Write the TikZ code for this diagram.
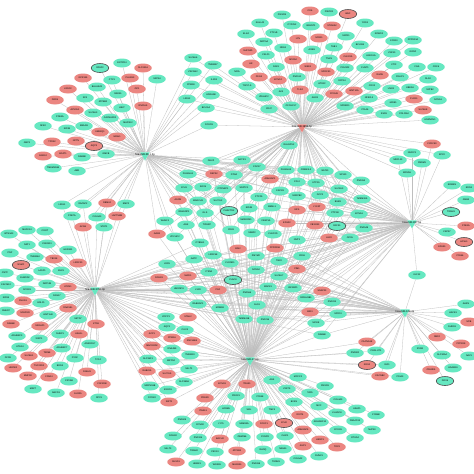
\documentclass[tikz,border=0pt]{standalone}
\usepackage{fontspec}
\setmainfont{Liberation Sans}
\usetikzlibrary{shapes.geometric,backgrounds}
\definecolor{tq}{RGB}{102,232,193}
\definecolor{sm}{RGB}{235,134,129}
\definecolor{eg}{RGB}{190,190,190}
\tikzset{
 gene/.style={ellipse,minimum width=17.5pt,minimum height=9pt,inner sep=0pt,font=\fontsize{2.3}{2.7}\selectfont},
 gt/.style={gene,fill=tq},
 gs/.style={gene,fill=sm},
 dk/.style={draw=black!70,line width=0.6pt},
 hub/.style={regular polygon,regular polygon sides=3,shape border rotate=180,minimum size=11pt,inner sep=0pt,fill=tq},
 hlab/.style={font=\fontsize{2.6}{3}\selectfont},
 edge/.style={draw=eg,line width=0.28pt},
}
\begin{document}
\begin{tikzpicture}[x=1pt,y=-1pt]
\useasboundingbox (0,0) rectangle (474,474);
% hubs
\node[hub] (h1) at (145,155) {};
\node[hub,fill=sm] (h2) at (302,127) {};
\node[hub] (h3) at (412,223) {};
\node[hub] (h4) at (95,290) {};
\node[hub] (h5) at (405,312) {};
\node[hub] (h6) at (250,360) {};
\node[hlab] (l1) at (h1) {hsa-miR-26-1-3p};
\node[hlab] (l2) at (h2) {hsa-miR-199b-5p};
\node[hlab] (l3) at (h3) {hsa-miR-497-5p};
\node[hlab] (l4) at (h4) {hsa-miR-376c-3p};
\node[hlab] (l5) at (h5) {hsa-miR-128-3p};
\node[hlab] (l6) at (h6) {hsa-miR-17-5p};
% cluster A
\node[gt,dk] (a1) at (100,68) {RPAP2};
\node[gt] (a2) at (122,63) {ENTPD4};
\node[gs] (a3) at (143,68) {SLC24A1};
\node[gs] (a4) at (83,78) {GPR135};
\node[gt] (a5) at (112,80) {CTC1};
\node[gs] (a6) at (130,78) {PLA2G3};
\node[gt] (a7) at (157,79) {SRP54};
\node[gs] (a8) at (68,89) {LRRC2};
\node[gt] (a9) at (97,87) {BHLHE41};
\node[gt] (a10) at (118,94) {RAD51};
\node[gs] (a11) at (137,89) {ZIC1};
\node[gs] (a12) at (55,100) {DRD5};
\node[gt] (a13) at (85,98) {SP4};
\node[gt] (a14) at (103,102) {ATP8B2};
\node[gt] (a15) at (122,108) {HELT};
\node[gs] (a16) at (143,106) {RNF165};
\node[gs] (a17) at (75,110) {ACVRL1};
\node[gt] (a18) at (93,113) {SLC5A3};
\node[gt] (a19) at (110,118) {CACNA2D2};
\node[gt] (a20) at (60,117) {PDE4A};
\node[gt] (a21) at (128,123) {MAP3K2};
\node[gt] (a22) at (43,126) {NFE2};
\node[gt] (a23) at (67,129) {KIF3B};
\node[gt] (a24) at (84,126) {EBAG9};
\node[gs] (a25) at (100,132) {UBE2Q1};
\node[gs] (a26) at (117,137) {VASH1};
\node[gt] (a27) at (27,143) {GBP1};
\node[gs] (a28) at (52,142) {TPD52};
\node[gs] (a29) at (76,141) {NPTN};
\node[gs,dk] (a30) at (94,146) {AQP3};
\node[gs] (a31) at (43,156) {GNG12};
\node[gs] (a32) at (63,154) {BCAT1};
\node[gt] (a33) at (82,157) {RAB3B};
\node[gt] (a34) at (106,154) {GMFB};
\node[gt] (a35) at (53,168) {TMEM106B};
\node[gt] (a36) at (77,171) {ABI1};
\node[gt] (a37) at (193,58) {SLC6A6};
\node[gt] (a38) at (213,65) {TMEM97};
\node[gt] (a39) at (193,72) {ZSCAN2};
\node[gt] (a40) at (214,80) {IL1R1};
\node[gt] (a41) at (191,85) {PPM1E};
\node[gt] (a42) at (187,99) {LRIG2};
\node[gt] (a43) at (211,95) {ADRA2B};
\node[gt] (a44) at (206,108) {BCL11A};
\node[gt] (a45) at (209,125) {FOXO3};
% cluster B
\node[gs] (b1) at (310,11) {CD6};
\node[gt] (b2) at (329,12) {PIEZO1};
\node[gs,dk] (b3) at (348,14) {WAC};
\node[gt] (b4) at (282,15) {PIK3CB};
\node[gt] (b5) at (260,23) {KLHL42};
\node[gt] (b6) at (292,25) {CYP4V2};
\node[gt] (b7) at (311,26) {B3GNT1};
\node[gs] (b8) at (332,26) {ST8SIA2};
\node[gt] (b9) at (365,23) {YOD1};
\node[gt] (b10) at (246,34) {ELK4};
\node[gt] (b11) at (274,33) {PTCH1};
\node[gs] (b12) at (319,38) {SOX11};
\node[gt] (b13) at (346,36) {S1PR1};
\node[gt] (b14) at (379,34) {ROBO2};
\node[gt] (b15) at (264,42) {INPP5A};
\node[gs] (b16) at (298,39) {LYN};
\node[gt] (b17) at (360,45) {BCL11B};
\node[gt] (b18) at (394,41) {COX10};
\node[gt] (b19) at (413,40) {PPP1R3A};
\node[gs] (b20) at (248,51) {SUCNR1};
\node[gt] (b21) at (283,48) {NRG1};
\node[gt] (b22) at (312,50) {AREG};
\node[gt] (b23) at (334,47) {TAB1};
\node[gt] (b24) at (413,52) {GDNF};
\node[gt] (b25) at (266,55) {CELF1};
\node[gs] (b26) at (293,60) {NCOA2};
\node[gt] (b27) at (329,59) {TNKS};
\node[gs] (b28) at (348,57) {CLEC2A};
\node[gt] (b29) at (371,56) {ANKS1A};
\node[gt] (b30) at (392,53) {ZNF10};
\node[gs] (b31) at (251,64) {AR};
\node[gt] (b32) at (276,67) {PAK3};
\node[gs] (b33) at (308,67) {WEE1};
\node[gs] (b34) at (326,72) {SPOCK1};
\node[gt] (b35) at (345,68) {POU3F2};
\node[gt] (b36) at (365,68) {CHST1};
\node[gt] (b37) at (394,65) {CTIF};
\node[gt] (b38) at (417,67) {FGA};
\node[gt] (b39) at (436,67) {CDC6};
\node[gt] (b40) at (237,72) {NFIA};
\node[gs] (b41) at (259,77) {PEG3};
\node[gs] (b42) at (278,80) {KCNC4};
\node[gt] (b43) at (297,77) {ZNF512};
\node[gs] (b44) at (380,75) {RHOU};
\node[gt] (b45) at (400,77) {PGAP1};
\node[gt] (b46) at (428,79) {DLG2};
\node[gt] (b47) at (247,86) {TSPYL5};
\node[gt] (b48) at (281,92) {AK3};
\node[gs] (b49) at (300,90) {TLR4};
\node[gt] (b50) at (322,84) {HTR1F};
\node[gt] (b51) at (342,81) {RPP14};
\node[gt] (b52) at (372,86) {CDX2};
\node[gt] (b53) at (391,89) {USO1};
\node[gt] (b54) at (410,88) {UBE2H};
\node[gt] (b55) at (430,90) {SNTB2};
\node[gt] (b56) at (264,97) {ZDHHC2};
\node[gs] (b57) at (334,94) {PCDH9};
\node[gs] (b58) at (354,91) {WNT10A};
\node[gt] (b59) at (315,98) {AGO1};
\node[gt] (b60) at (369,98) {NFE2L3};
\node[gs] (b61) at (414,99) {PLCG1};
\node[gt] (b62) at (438,100) {NOVA1};
\node[gt] (b63) at (269,109) {CD47};
\node[gt] (b64) at (291,106) {ZCCHC17};
\node[gt] (b65) at (345,106) {SPRED1};
\node[gt] (b66) at (393,103) {JADE1};
\node[gs] (b67) at (423,110) {SLC6A8};
\node[gt] (b68) at (365,110) {ITGA6};
\node[gt] (b69) at (384,114) {SSR1};
\node[gt] (b70) at (404,114) {POLR3H};
\node[gt] (b71) at (430,120) {HNRNPH1};
\node[gt] (b72) at (289,145) {RALGPS2};
% cluster C
\node[gs] (c1) at (432,144) {CCDC80};
\node[gt] (c2) at (412,153) {NUFIP1};
\node[gt] (c3) at (442,155) {EPC2};
\node[gt] (c4) at (398,160) {MRPL13};
\node[gt] (c5) at (422,163) {PBRM1};
\node[gt] (c6) at (407,173) {MFSD6};
\node[gt] (c7) at (452,185) {EOMES};
\node[gt] (c8) at (469,188) {EDN1};
\node[gt] (c9) at (466,200) {GNB4};
\node[gt,dk] (c10) at (451,212) {TRAM1};
\node[gs] (c11) at (466,226) {PDE1A};
\node[gt] (c12) at (447,232) {CEP97};
\node[gs,dk] (c13) at (464,242) {ACSL1};
\node[gs] (c14) at (442,247) {EPAS1};
\node[gs] (c15) at (460,256) {ITGB6};
\node[gt] (c16) at (417,275) {KLF12};
% cluster E
\node[gt] (e1) at (466,304) {AARS};
\node[gt] (e2) at (453,313) {HACE1};
\node[gs] (e3) at (469,322) {MYB};
\node[gt] (e4) at (452,327) {DHRS3};
\node[gs] (e5) at (437,337) {RBP4};
\node[gs] (e6) at (461,344) {PPP1R9};
\node[gt] (e7) at (469,356) {NAV1};
\node[gt] (e8) at (420,349) {STAM};
\node[gt] (e9) at (442,355) {SLC30A4};
\node[gt] (e10) at (453,368) {ADAM19};
\node[gs] (e11) at (431,370) {ZFAND5};
\node[gt,dk] (e12) at (445,381) {DDX6};
\node[gs] (e13) at (367,342) {CACNA1E};
\node[gt] (e14) at (355,353) {ZNF800};
\node[gt] (e15) at (376,351) {POGLUT1};
\node[gs,dk] (e16) at (367,365) {RGS2};
\node[gt] (e17) at (387,365) {IGF1};
\node[gs] (e18) at (380,376) {CACNB2};
\node[gt] (e19) at (400,377) {PDIA3};
% cluster D
\node[gt] (d1) at (62,205) {LRIG1};
\node[gt] (d2) at (83,204) {DAZAP2};
\node[gs] (d3) at (107,203) {RBM24};
\node[gt] (d4) at (126,204) {EMP2};
\node[gt] (d5) at (72,216) {PDE7A};
\node[gt] (d6) at (97,217) {COL9A3};
\node[gs] (d7) at (117,216) {LAPTM4B};
\node[gs] (d8) at (83,227) {ACAN};
\node[gt] (d9) at (104,227) {STAT1};
\node[gt] (d10) at (9,234) {BTN3A3};
\node[gt] (d11) at (27,230) {MAPK14};
\node[gt] (d12) at (45,231) {CROT};
\node[gt] (d13) at (27,245) {NAT1};
\node[gt] (d14) at (47,244) {CNKSR3};
\node[gt] (d15) at (68,250) {HEXIM1};
\node[gt] (d16) at (10,253) {PNP};
\node[gt] (d17) at (35,257) {TMEM64};
\node[gs] (d18) at (54,259) {TBX18};
\node[gs] (d19) at (78,263) {LRRC20};
\node[gs,dk] (d20) at (21,265) {NSMF};
\node[gt] (d21) at (5,273) {CNTF};
\node[gt] (d22) at (42,271) {LASP1};
\node[gt] (d23) at (61,271) {ZHX3};
\node[gt] (d24) at (25,278) {ELMOD2};
\node[gt] (d25) at (6,285) {CACNG2};
\node[gt] (d26) at (47,284) {INPP4B};
\node[gt] (d27) at (27,290) {SCRN1};
\node[gs] (d28) at (68,287) {ATXN1};
\node[gt] (d29) at (6,298) {KIF1B};
\node[gs] (d30) at (23,301) {PHKG1};
\node[gt] (d31) at (57,296) {RGS17};
\node[gt] (d32) at (41,303) {GRLF1};
\node[gt] (d33) at (6,311) {SMAD7};
\node[gs] (d34) at (25,313) {SCAPER};
\node[gt] (d35) at (48,315) {HIST1H4};
\node[gs] (d36) at (68,308) {RNASEL};
\node[gt] (d37) at (78,319) {SETD7};
\node[gs] (d38) at (11,324) {RAB6B};
\node[gs] (d39) at (40,326) {SRGAP1};
\node[gt] (d40) at (60,334) {NUBP1};
\node[gt] (d41) at (17,336) {ARHGEF3};
\node[gs] (d42) at (96,324) {KTN1};
\node[gs] (d43) at (79,334) {ASH1L};
\node[gt] (d44) at (39,339) {XIRP1};
\node[gt] (d45) at (20,347) {ATG14};
\node[gt] (d46) at (62,348) {ARHGEF7};
\node[gt] (d47) at (90,344) {ANKRD17};
\node[gs] (d48) at (29,356) {SLC8A1};
\node[gs] (d49) at (47,353) {TRIM8};
\node[gt] (d50) at (8,358) {DFFB};
\node[gt] (d51) at (75,358) {DYSF};
\node[gt] (d52) at (98,360) {TCF4};
\node[gs] (d53) at (13,368) {HECW2};
\node[gs] (d54) at (39,366) {TSC22D2};
\node[gt] (d55) at (60,366) {BRD4};
\node[gs] (d56) at (87,372) {DNAH1};
\node[gs] (d57) at (28,376) {BMPR2};
\node[gs] (d58) at (49,377) {FFAR4};
\node[gt] (d59) at (69,381) {CRYAB};
\node[gs] (d60) at (102,384) {CSF2RB};
\node[gt] (d61) at (33,389) {MAP7};
\node[gt] (d62) at (56,393) {ABCD3};
\node[gs] (d63) at (78,394) {GLRX5};
\node[gt] (d64) at (99,398) {DPF3};
% middle M
\node[gt] (m1) at (211,161) {DGKZ};
\node[gt] (m2) at (188,174) {PLEKHA1};
\node[gs] (m3) at (214,174) {REPS2};
\node[gt] (m4) at (234,175) {DTNA};
\node[gt] (m5) at (184,188) {JPH1};
\node[gt] (m6) at (203,187) {SOX5};
\node[gt] (m7) at (223,189) {CTDNEP1};
\node[gs] (m8) at (178,200) {AGRN};
\node[gt] (m9) at (198,201) {MARCH3};
\node[gt] (m10) at (218,201) {SLC7A2};
\node[gt] (m11) at (184,212) {RASGRP1};
\node[gt] (m12) at (205,213) {GLS};
\node[gt,dk] (m13) at (229,211) {PHACTR2};
\node[gt] (m14) at (165,221) {WHSC1};
\node[gt] (m15) at (186,225) {AGK};
\node[gt] (m16) at (207,225) {TIPARP};
\node[gt] (m17) at (231,230) {CD83};
\node[gs] (m18) at (157,234) {GAB1};
\node[gt] (m19) at (175,237) {ZCCHC2};
\node[gt] (m20) at (242,160) {AGTR1};
\node[gt] (m21) at (257,167) {CDC27};
\node[gs] (m22) at (270,179) {ARHGAP1};
\node[gt] (m23) at (286,170) {PLEKHA3};
\node[gt] (m24) at (306,170) {CREB3L2};
\node[gt] (m25) at (325,171) {NAT10};
\node[gt] (m26) at (343,175) {SP110};
\node[gt] (m27) at (361,181) {ZNF264};
\node[gt] (m28) at (244,188) {SPATC1};
\node[gt] (m29) at (280,191) {CAPN3};
\node[gt] (m30) at (297,182) {CFL2};
\node[gt] (m31) at (316,183) {UTP15};
\node[gt] (m32) at (339,189) {SLC2A3};
\node[gt] (m33) at (259,197) {PTCD1};
\node[gt] (m34) at (297,196) {SNRPB2};
\node[gt] (m35) at (320,195) {DCP2};
\node[gt] (m36) at (338,202) {BUB3};
\node[gt] (m37) at (362,199) {TMEM30A};
\node[gt] (m38) at (249,208) {EIF4B};
\node[gt] (m39) at (272,207) {MBNL1};
\node[gs] (m40) at (317,207) {LYCAT};
\node[gs] (m41) at (297,210) {EIF5};
\node[gt] (m42) at (335,213) {PTPN4};
\node[gt] (m43) at (359,214) {KCNA1};
\node[gt] (m44) at (246,220) {SMARCB1};
\node[gt] (m45) at (266,221) {FKBP1A};
\node[gs] (m46) at (287,223) {EPHX2};
\node[gs] (m47) at (315,225) {FBXO33};
\node[gt,dk] (m48) at (337,226) {PACS1};
\node[gt] (m49) at (364,228) {ZNF548};
\node[gt] (m50) at (252,233) {SSBP2};
\node[gt] (m51) at (273,234) {CLEC2D};
\node[gs] (m52) at (329,238) {LHX2};
\node[gt] (m53) at (350,238) {OCRL};
\node[gt] (m54) at (297,240) {NMT1};
\node[gt] (m55) at (200,243) {CYB561};
\node[gs] (m56) at (238,249) {BIN2};
\node[gs] (m57) at (275,248) {PPP2R5E};
\node[gt] (m58) at (213,255) {LRRC58};
\node[gt] (m59) at (256,256) {ZMYM2};
\node[gt] (m60) at (302,256) {CD59};
\node[gt] (m61) at (279,261) {TBX2};
\node[gt] (m62) at (167,264) {LRP6};
\node[gt] (m63) at (194,259) {GATC};
\node[gt] (m64) at (230,263) {CLDND1};
\node[gt] (m65) at (256,270) {NOVA2};
\node[gs] (m66) at (297,269) {PIM1};
\node[gt] (m67) at (279,276) {SLC4A7};
\node[gs] (m68) at (159,278) {RCAN1};
\node[gs] (m69) at (188,276) {MAFG};
\node[gt] (m70) at (209,272) {ITSN2};
\node[gt,dk] (m71) at (233,280) {PLAC8};
\node[gt] (m72) at (268,287) {MAPK1};
\node[gt] (m73) at (293,288) {IGF2BP1};
\node[gs] (m74) at (322,291) {SNAP23};
\node[gt] (m75) at (179,289) {HNRNPU};
\node[gt] (m76) at (198,290) {LYAR};
\node[gs] (m77) at (218,290) {PGF};
\node[gt] (m78) at (247,293) {ZNF566};
\node[gt] (m79) at (306,298) {PAFAH1B1};
\node[gt] (m80) at (332,302) {ZNF224};
\node[gt] (m81) at (198,304) {RABGAP1};
\node[gt] (m82) at (220,308) {MOB1B};
\node[gt] (m83) at (257,305) {GLS1};
\node[gs] (m84) at (310,312) {BRI3};
\node[gt] (m85) at (338,314) {SPRY4};
\node[gt] (m86) at (244,319) {TMEM41B};
\node[gt] (m87) at (265,320) {ZNF236};
\node[gt] (m88) at (316,323) {MCEE};
\node[gt] (m89) at (322,335) {RAB5B};
% cluster F
\node[gt] (f1) at (166,317) {VOPP1};
\node[gs] (f2) at (188,317) {STAU2};
\node[gt] (f3) at (167,327) {AQP1};
\node[gt] (f4) at (185,330) {CLIC4};
\node[gs] (f5) at (152,334) {ACP1};
\node[gs] (f6) at (172,338) {PPM1A};
\node[gs] (f7) at (192,341) {RNF144B};
\node[gs] (f8) at (152,346) {MACROD2};
\node[gt] (f9) at (172,349) {DNAJB9};
\node[gt] (f10) at (190,355) {TMEM33};
\node[gt] (f11) at (148,359) {SLC35F1};
\node[gt] (f12) at (171,361) {MRTO4};
\node[gt] (f13) at (189,369) {MLLT1};
\node[gs] (f14) at (147,371) {RAB22A};
\node[gs] (f15) at (167,374) {SLC7A5};
\node[gt] (f16) at (184,382) {SLC39A9};
\node[gt] (f17) at (150,386) {MRPS18B};
\node[gt] (f18) at (168,390) {EXOC6};
\node[gt] (f19) at (152,398) {DYRK2};
\node[gs] (f20) at (169,402) {SIRT1};
\node[gs] (f21) at (222,384) {KCNS3};
\node[gs] (f22) at (205,398) {PDE4D};
\node[gt] (f23) at (236,396) {PROX1};
\node[gs] (f24) at (203,411) {ITGA11};
\node[gt] (f25) at (226,409) {HOXB5};
\node[gt] (f26) at (182,420) {ZNF609};
\node[gt] (f27) at (200,425) {CCND2};
\node[gt] (f28) at (221,424) {LY75};
\node[gt] (f29) at (173,436) {RCAN2};
\node[gt] (f30) at (198,438) {ZNF326};
\node[gs] (f31) at (220,439) {BACH2};
\node[gs] (f32) at (237,451) {ATP2B1};
\node[gt] (f33) at (168,449) {MLLT3};
\node[gt] (f34) at (194,451) {TRAM2};
\node[gt] (f35) at (215,452) {PEX13};
\node[gs] (f36) at (176,462) {SUSD1};
\node[gt] (f37) at (197,464) {HEMK1};
\node[gt] (f38) at (217,465) {WDR26};
\node[gs] (f39) at (247,384) {TRAK1};
\node[gt] (f40) at (272,380) {AGK};
\node[gt] (f41) at (298,377) {MCCC2};
\node[gt] (f42) at (325,386) {PIK3R1};
\node[gt] (f43) at (287,389) {ZNF79};
\node[gt] (f44) at (310,393) {TAF5};
\node[gt] (f45) at (260,397) {ITGB8};
\node[gt] (f46) at (338,400) {COL4A3};
\node[gt] (f47) at (294,402) {BVES};
\node[gt] (f48) at (319,406) {MCC};
\node[gt] (f49) at (337,413) {KLHDC8};
\node[gt] (f50) at (357,409) {ASAP1};
\node[gt] (f51) at (376,415) {CYB5B};
\node[gt] (f52) at (249,410) {SKIL};
\node[gt] (f53) at (272,410) {TMC3};
\node[gs] (f54) at (300,415) {DDIT4};
\node[gs,dk] (f55) at (284,423) {JPH2};
\node[gs] (f56) at (264,424) {FOXC1};
\node[gt] (f57) at (244,424) {SAMD4A};
\node[gs] (f58) at (303,430) {ARHGAP5};
\node[gt] (f59) at (320,422) {ARHGEF12};
\node[gt] (f60) at (355,421) {DNAJC24};
\node[gt] (f61) at (338,430) {CCDC6};
\node[gt] (f62) at (372,430) {NUP50};
\node[gt] (f63) at (265,437) {SYNPR};
\node[gt] (f64) at (285,436) {CHIC1};
\node[gs] (f65) at (320,440) {HERC3};
\node[gt] (f66) at (355,438) {OTUD4};
\node[gt] (f67) at (242,437) {ZSWIM6};
\node[gt] (f68) at (263,450) {RHOQ};
\node[gt] (f69) at (283,449) {NR6A1};
\node[gs] (f70) at (303,446) {AUP1};
\node[gs] (f71) at (337,447) {TOX3};
\node[gt] (f72) at (276,462) {TENM1};
\node[gt] (f73) at (298,459) {COL5A2};
\node[gt] (f74) at (319,456) {RUNX1};
\node[gt] (f75) at (256,464) {ZNF268};
\node[gs] (f76) at (237,465) {MAN2A1};
% edges
\begin{scope}[on background layer]
\fill[white] (0,0) rectangle (474,474);
\foreach \i in {1,...,45} \draw[edge] (h1) -- (a\i);
\foreach \i in {37,...,45} \draw[edge] (h2) -- (a\i);
\foreach \i in {1,...,72} \draw[edge] (h2) -- (b\i);
\foreach \i in {1,...,16} \draw[edge] (h3) -- (c\i);
\foreach \i in {1,...,6} \draw[edge] (h2) -- (c\i);
\draw[edge] (h5) -- (c16);
\foreach \i in {1,...,19} \draw[edge] (h5) -- (e\i);
\foreach \i in {13,...,19} \draw[edge] (h6) -- (e\i);
\foreach \i in {1,...,64} \draw[edge] (h4) -- (d\i);
\foreach \i in {1,...,9} \draw[edge] (h1) -- (d\i);
\foreach \h in {h1,h2,h6} {\foreach \i in {1,...,19} \draw[edge] (\h) -- (m\i);}
\foreach \h in {h2,h3,h6} {\foreach \i in {20,...,54} \draw[edge] (\h) -- (m\i);}
\foreach \i in {20,...,34} \draw[edge] (h1) -- (m\i);
\foreach \h in {h4,h6} {\foreach \i in {55,...,89} \draw[edge] (\h) -- (m\i);}
\foreach \i in {57,...,89} \draw[edge] (h5) -- (m\i);
\foreach \i in {60,...,89} \draw[edge] (h3) -- (m\i);
\foreach \i in {1,...,20} \draw[edge] (h4) -- (f\i);
\foreach \i in {1,...,76} \draw[edge] (h6) -- (f\i);
\end{scope}
\end{tikzpicture}
\end{document}
